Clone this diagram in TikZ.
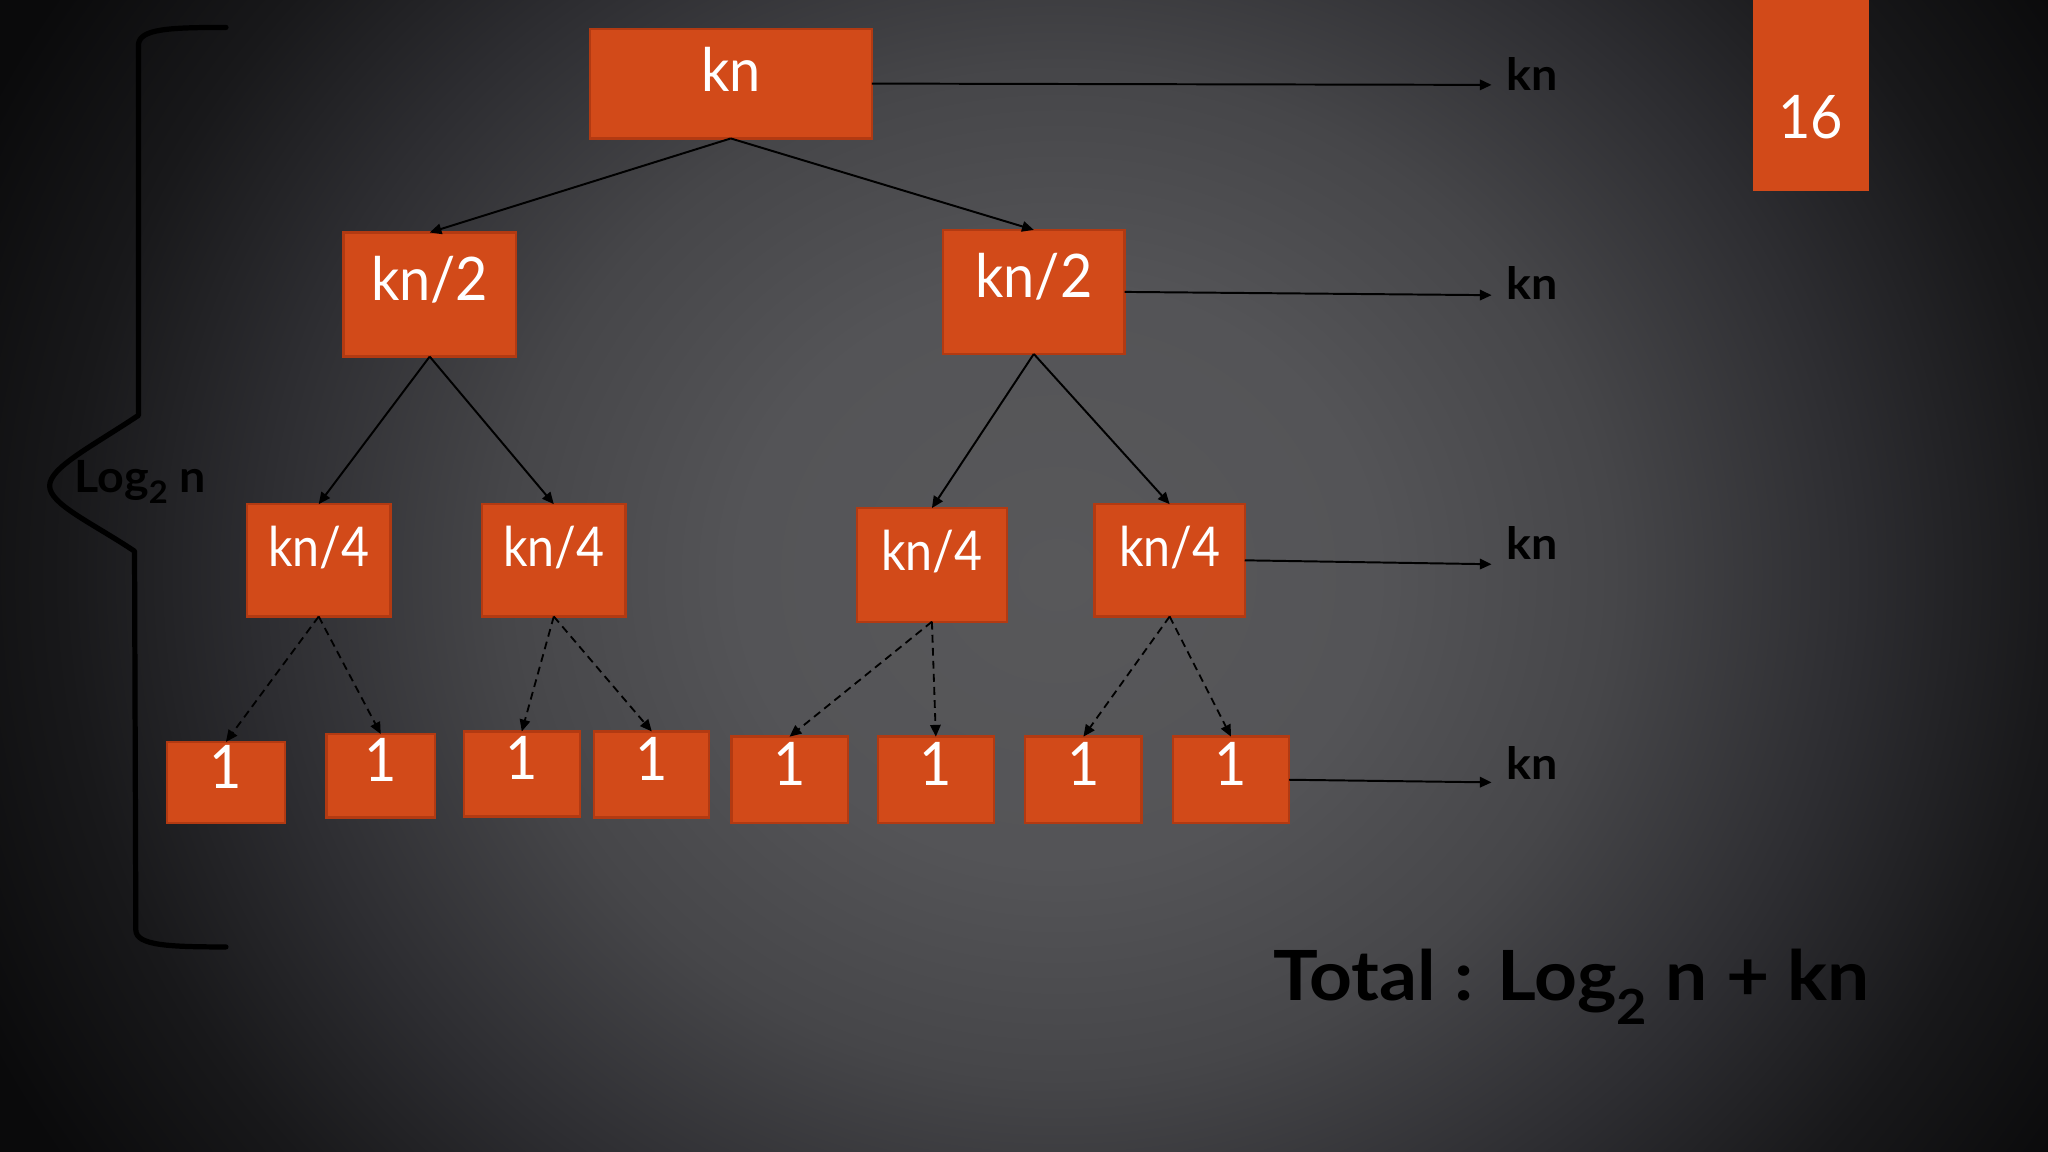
\documentclass[tikz,border=0pt]{standalone}
\usepackage{fontspec}
\setmainfont{Lato}
\newfontfamily\boxfont[FakeStretch=0.93]{Lato}
\newfontfamily\boxfontn[FakeStretch=0.88]{Lato}
\newfontfamily\lblfont[FakeStretch=1.05]{Lato}
\newfontfamily\totfont[FakeStretch=1.08]{Lato}
\usetikzlibrary{arrows.meta}
\definecolor{boxfill}{RGB}{210,74,25}
\definecolor{boxedge}{RGB}{178,58,18}
\definecolor{bgc}{RGB}{88,88,90}
\definecolor{bga}{RGB}{84,84,87}
\definecolor{bgb}{RGB}{70,70,73}
\definecolor{bgm}{RGB}{45,45,49}
\definecolor{bgn}{RGB}{24,24,26}
\definecolor{bge}{RGB}{10,10,11}
\pgfdeclareradialshading{bgshade}{\pgfpoint{0bp}{0bp}}{color(0bp)=(bgc); color(7.5bp)=(bga); color(13.1bp)=(bgb); color(18.8bp)=(bgm); color(23.5bp)=(bgn); color(28.1bp)=(bge); color(50bp)=(bge)}
\begin{document}
\begin{tikzpicture}[x=1pt,y=-1pt,
  box/.style={draw=boxedge, line width=1.8pt, fill=boxfill, inner sep=0pt, outer sep=0pt},
  boxtxt/.style={text=white, font=\boxfont\fontsize{46}{50}\selectfont, inner sep=0pt},
  boxtxtn/.style={text=white, font=\boxfontn\fontsize{42}{46}\selectfont, inner sep=0pt},
  conn/.style={line width=1.5pt, -{Triangle[length=9pt,width=8pt]}},
  dconn/.style={line width=1.4pt, dash pattern=on 6pt off 4pt, -{Triangle[length=9pt,width=8pt]}},
  side/.style={font=\lblfont\bfseries\fontsize{34}{38}\selectfont, text=black, inner sep=0pt},
  brace/.style={line width=4pt, line cap=round, line join=round, black},
]
\useasboundingbox (0,0) rectangle (1568,882);
\begin{scope}
\clip (0,0) rectangle (1568,882);
\shade[shading=bgshade] (0,-295) rectangle (1620,1175);
\end{scope}

% bracket
\draw[brace] (173,21) .. controls (130,21) and (107,22) .. (106,34) -- (106,318)
  .. controls (70,342) and (38,358) .. (38,372) .. controls (38,386) and (70,400) .. (103,422)
  -- (104,712) .. controls (104,724) and (130,725) .. (173,725);
\node[side, font=\lblfont\bfseries\fontsize{34}{38}\selectfont, anchor=base west] (lg) at (57,377) {Log\textsubscript{2} n};

% page number
\node[fill=boxfill, inner sep=0pt, minimum width=89pt, minimum height=146pt,
  label={[boxtxt, yshift=-17pt]center:16}] (pg) at (1386.5,73) {};

% tree
\node[box, minimum width=216pt, minimum height=84pt, label={[boxtxt,yshift=11pt]center:kn}] (kn) at (559.5,64) {};
\node[box, minimum width=132pt, minimum height=95pt, label={[boxtxt,yshift=11pt]center:kn/2}] (L) at (329,225.5) {};
\node[box, minimum width=139pt, minimum height=95pt, label={[boxtxt,yshift=12pt]center:kn/2}] (R) at (791.5,223.5) {};
\node[box, minimum width=110pt, minimum height=86pt, label={[boxtxtn,yshift=10pt]center:kn/4}] (L1) at (244,429) {};
\node[box, minimum width=110pt, minimum height=86pt, label={[boxtxtn,yshift=10pt]center:kn/4}] (L2) at (424,429) {};
\node[box, minimum width=115pt, minimum height=87pt, label={[boxtxtn,yshift=10pt]center:kn/4}] (R1) at (713.5,432.5) {};
\node[box, minimum width=115pt, minimum height=86pt, label={[boxtxtn,yshift=10pt]center:kn/4}] (R2) at (895.5,429) {};

\node[box, minimum width=90pt, minimum height=62pt, label={[boxtxt,yshift=12pt]center:1}] (a) at (173,599) {};
\node[box, minimum width=83pt, minimum height=64pt, label={[boxtxt,yshift=12pt]center:1}] (b) at (291.5,594) {};
\node[box, minimum width=89pt, minimum height=65pt, label={[boxtxt,yshift=12pt]center:1}] (c) at (399.5,592.5) {};
\node[box, minimum width=88pt, minimum height=66pt, label={[boxtxt,yshift=12pt]center:1}] (d) at (499,593) {};
\node[box, minimum width=89pt, minimum height=66pt, label={[boxtxt,yshift=12pt]center:1}] (e) at (604.5,597) {};
\node[box, minimum width=89pt, minimum height=66pt, label={[boxtxt,yshift=12pt]center:1}] (f) at (716.5,597) {};
\node[box, minimum width=89pt, minimum height=66pt, label={[boxtxt,yshift=12pt]center:1}] (g) at (829.5,597) {};
\node[box, minimum width=89pt, minimum height=66pt, label={[boxtxt,yshift=12pt]center:1}] (h) at (942.5,597) {};

\draw[conn] (kn.south) -- (L.north);
\draw[conn] (kn.south) -- (R.north);
\draw[conn] (L.south) -- (L1.north);
\draw[conn] (L.south) -- (L2.north);
\draw[conn] (R.south) -- (R1.north);
\draw[conn] (R.south) -- (R2.north);

\draw[dconn] (L1.south) -- (a.north);
\draw[dconn] (L1.south) -- (b.north);
\draw[dconn] (L2.south) -- (c.north);
\draw[dconn] (L2.south) -- (d.north);
\draw[dconn] (R1.south) -- (e.north);
\draw[dconn] (R1.south) -- (f.north);
\draw[dconn] (R2.south) -- (g.north);
\draw[dconn] (R2.south) -- (h.north);

% level sums
\coordinate (e1) at (1142,65);
\coordinate (e2) at (1142,226);
\coordinate (e3) at (1142,432);
\coordinate (e4) at (1142,599);
\draw[conn] (kn.east) -- (e1);
\draw[conn] (R.east) -- (e2);
\draw[conn] (R2.east) -- (e3);
\draw[conn] (h.east) -- (e4);
\node[side, anchor=base] (s1) at (1173,69) {kn};
\node[side, anchor=base] (s2) at (1173,229) {kn};
\node[side, anchor=base] (s3) at (1173,428) {kn};
\node[side, anchor=base] (s4) at (1173,597) {kn};

\node[side, font=\totfont\bfseries\fontsize{53}{58}\selectfont, anchor=base west] (tot) at (975,766) {Total : Log\textsubscript{2} n + kn};
\end{tikzpicture}
\end{document}
